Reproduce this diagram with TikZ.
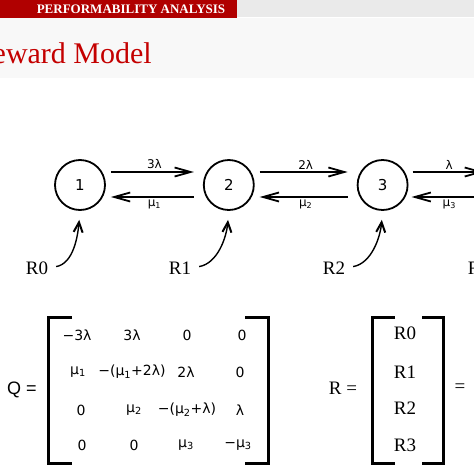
\documentclass[tikz,border=0pt]{standalone}
\usepackage{fontspec}
\setmainfont{Liberation Serif}
\setsansfont{DejaVu Sans}
\usetikzlibrary{arrows.meta, positioning}
\definecolor{hdrred}{RGB}{176, 0, 0}
\definecolor{hdrgray}{RGB}{234, 234, 234}
\definecolor{titlebg}{RGB}{248, 248, 248}
\definecolor{titlered}{RGB}{196, 0, 0}
\newcommand{\mrate}[1]{μ\textsubscript{#1}}

\begin{document}
\begin{tikzpicture}[x=1pt, y=-1pt,
    state/.style={draw, circle, line width=1.8pt, minimum size=50pt, inner sep=0pt,
                  font=\sffamily\fontsize{15}{15}\selectfont},
    trans/.style={-{Straight Barb[length=16pt, width=9pt]}, line width=1.8pt},
    rate/.style={font=\sffamily\fontsize{12}{12}\selectfont, inner sep=2pt},
    rwd/.style={font=\fontsize{19}{19}\selectfont, inner sep=0pt},
    rarr/.style={-{Straight Barb[length=10pt, width=9pt, line width=2pt]}, line width=1.4pt},
    entry/.style={font=\sffamily\fontsize{14}{14}\selectfont, inner sep=0pt},
    brk/.style={line width=3pt}
]
    \useasboundingbox (0,0) rectangle (474,474);
    \clip (0,0) rectangle (474,474);
    \fill[white] (0,0) rectangle (474,474);

    % slide header
    \fill[hdrred] (0,0) rectangle (237,18);
    \fill[hdrgray] (237,0) rectangle (474,17);
    \fill[titlebg] (0,18) rectangle (474,78);
    \node[text=white, font=\bfseries\fontsize{13}{13}\selectfont] (hdr) at (131,9) {PERFORMABILITY ANALYSIS};
    \node[text=titlered, anchor=base east, inner sep=0pt, font=\fontsize{30}{30}\selectfont] (title) at (152,63) {Reward Model};

    % states
    \node[state] (s1) at (80,185) {1};
    \node[state, right=97pt of s1] (s2) {2};
    \node[state, right=102pt of s2] (s3) {3};
    \coordinate (s4w) at (490,185);

    \draw[trans, shorten <=5pt, shorten >=9pt] ([yshift=13pt]s1.east) -- ([yshift=13pt]s2.west)
        node[rate, midway, above] {3λ};
    \draw[trans, shorten <=9pt, shorten >=5pt] ([yshift=-12pt]s2.west) -- ([yshift=-12pt]s1.east)
        node[rate, midway, below] {\mrate{1}};
    \draw[trans, shorten <=5pt, shorten >=9pt] ([yshift=13pt]s2.east) -- ([yshift=13pt]s3.west)
        node[rate, midway, above] {2λ};
    \draw[trans, shorten <=9pt, shorten >=5pt] ([yshift=-12pt]s3.west) -- ([yshift=-12pt]s2.east)
        node[rate, midway, below] {\mrate{2}};
    \draw[trans, shorten <=4pt, shorten >=6pt] ([yshift=13pt]s3.east) -- ([yshift=13pt]s4w)
        node[rate, midway, above] {λ};
    \draw[trans, shorten >=3pt] ([yshift=-12pt]s4w) -- ([yshift=-12pt]s3.east)
        node[rate, midway, below] {\mrate{3}};

    % rewards
    \node[rwd] (r0) at (37,268) {R0};
    \node[rwd] (r1) at (180,268) {R1};
    \node[rwd] (r2) at (334,268) {R2};
    \node[rwd] (r3) at (479,268) {R3};
    \draw[rarr, shorten <=8pt, shorten >=9pt] (r0.east) to[out=10, in=-95] (s1.south);
    \draw[rarr, shorten <=8pt, shorten >=9pt] (r1.east) to[out=10, in=-95] (s2.south);
    \draw[rarr, shorten <=8pt, shorten >=9pt] (r2.east) to[out=10, in=-95] (s3.south);

    % generator matrix Q
    \node[font=\fontsize{18}{18}\selectfont\fontspec{Liberation Sans}, inner sep=0pt] (qlbl) at (22,390) {Q =};
    \draw[brk] (72,317) -| (48,463) -- (72,463);
    \draw[brk] (245,317) -| (268,463) -- (245,463);
    \foreach \e [count=\c] in {−3λ, 3λ, 0, 0}
        \node[entry] (q1\c) at ({22+55*\c},335) {\e};
    \foreach \e [count=\c] in {\mrate{1}, {−(\mrate{1}+2λ)}, 2λ, 0}
        \node[entry] (q2\c) at ({24+54*\c},372) {\e};
    \foreach \e [count=\c] in {0, \mrate{2}, {−(\mrate{2}+λ)}, λ}
        \node[entry] (q3\c) at ({28+53*\c},410) {\e};
    \foreach \e [count=\c] in {0, 0, \mrate{3}, {−\mrate{3}}}
        \node[entry] (q4\c) at ({30+52*\c},445) {\e};

    % reward vector R
    \node[rwd] (rlbl) at (343,388) {R =};
    \draw[brk] (395,317) -| (372,463) -- (395,463);
    \draw[brk] (422,317) -| (443,463) -- (422,463);
    \node[rwd] (v0) at (405,333) {R0};
    \node[rwd] (v1) at (405,372) {R1};
    \node[rwd] (v2) at (405,408) {R2};
    \node[rwd] (v3) at (405,445) {R3};
    \node[rwd] (req) at (460,388) {=};
\end{tikzpicture}
\end{document}
